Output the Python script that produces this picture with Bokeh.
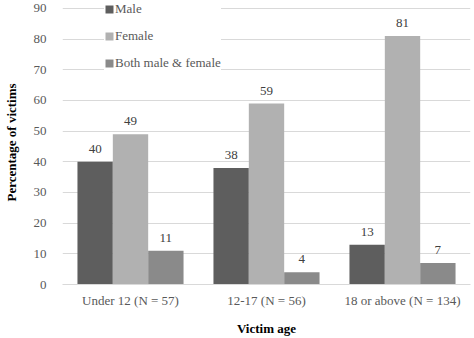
from bokeh.plotting import figure
from bokeh.models import ColumnDataSource, FactorRange, Range1d, Legend, LegendItem, FixedTicker
from bokeh.transform import dodge
from bokeh.core.properties import value
from bokeh.embed import file_html
from bokeh.resources import INLINE

categories = ["Under 12 (N = 57)", "12-17 (N = 56)", "18 or above (N = 134)"]
male = [40, 38, 13]
female = [49, 59, 81]
both = [11, 4, 7]
series_names = ["Male", "Female", "Both male & female"]
y_ticks = [0, 10, 20, 30, 40, 50, 60, 70, 80, 90]

colors = ["#5e5e5e", "#b1b1b1", "#8a8a8a"]
FONT = "Liberation Serif"

src = ColumnDataSource(dict(
    cat=categories, male=male, female=female, both=both,
    male_t=[str(v) for v in male], female_t=[str(v) for v in female], both_t=[str(v) for v in both],
))

p = figure(width=474, height=338, x_range=FactorRange(factors=categories), y_range=Range1d(0, 92.6),
           output_backend="svg", toolbar_location=None,
           min_border_left=62, min_border_right=4, min_border_top=0, min_border_bottom=53)
p.outline_line_color = None
p.background_fill_color = "white"

W = 0.26
offs = [-W, 0, W]
fields = ["male", "female", "both"]
renderers = []
for f, o, c in zip(fields, offs, colors):
    r = p.vbar(x=dodge("cat", o, range=p.x_range), top=f, width=W, source=src,
               fill_color=c, line_color=None)
    renderers.append(r)
    p.text(x=dodge("cat", o, range=p.x_range), y=f, text=f + "_t", source=src,
           text_align="center", text_baseline="middle", y_offset=-13,
           text_font=value(FONT), text_font_size="13px", text_color="#404040")

legend = Legend(items=[LegendItem(label=n, renderers=[r]) for n, r in zip(series_names, renderers)],
                location=(42, 212), padding=20, margin=0, spacing=9,
                glyph_width=10, glyph_height=10, label_height=18, label_standoff=1,
                border_line_color=None, background_fill_color="white", background_fill_alpha=1,
                label_text_font=FONT, label_text_font_size="13px", label_text_color="#595959")
p.add_layout(legend)

p.xgrid.grid_line_color = None
p.ygrid.grid_line_color = "#d9d9d9"
p.ygrid.grid_line_width = 1

p.yaxis.ticker = FixedTicker(ticks=y_ticks)
p.yaxis.axis_line_color = None
p.yaxis.major_tick_line_color = None
p.yaxis.minor_tick_line_color = None
p.yaxis.major_label_standoff = 10
p.yaxis.major_label_text_font = FONT
p.yaxis.major_label_text_font_size = "13px"
p.yaxis.major_label_text_color = "#595959"
p.yaxis.axis_label = "Percentage of victims"
p.yaxis.axis_label_text_font = FONT
p.yaxis.axis_label_text_font_style = "bold"
p.yaxis.axis_label_text_font_size = "13px"
p.yaxis.axis_label_text_color = "black"
p.yaxis.axis_label_standoff = 12

p.xaxis.axis_line_color = "#d9d9d9"
p.xaxis.major_tick_line_color = None
p.xaxis.minor_tick_line_color = None
p.xaxis.major_label_standoff = 2
p.xaxis.major_label_text_font = FONT
p.xaxis.major_label_text_font_size = "13px"
p.xaxis.major_label_text_color = "#595959"
p.xaxis.axis_label = "Victim age"
p.xaxis.axis_label_text_font = FONT
p.xaxis.axis_label_text_font_style = "bold"
p.xaxis.axis_label_text_font_size = "13px"
p.xaxis.axis_label_text_color = "black"
p.xaxis.axis_label_standoff = 10

open("out.html", "w").write(file_html(p, INLINE))
